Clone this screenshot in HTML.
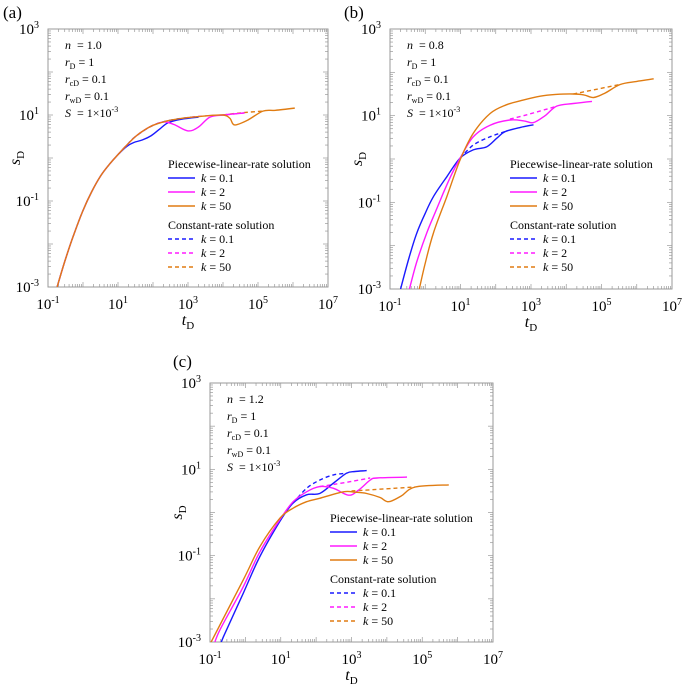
<!DOCTYPE html>
<html><head><meta charset="utf-8"><style>
body{margin:0;background:#fff}
svg{display:block;font-family:"Liberation Serif",serif}
</style></head><body>
<svg id="fig" width="685" height="685" viewBox="0 0 685 685">
<text x="3" y="18" font-size="17">(a)</text>
<text x="344" y="18" font-size="17">(b)</text>
<text x="173" y="367" font-size="17">(c)</text>
</svg>
<script>
// x-axis: log10 tD from -1 to 7; y-axis: log10 sD from -3 to 3
const xTickExps = [-1, 1, 3, 5, 7];
const yTickExps = [-3, -1, 1, 3];
const legendLabels = ["k = 0.1", "k = 2", "k = 50"];
const colors = ["#1a1aff", "#ff1aff", "#e07c12"];

// Panel (a) n=1.0 (log10 values)
const aBaseT = [-0.74,-0.5,-0.25,0,0.25,0.5,0.75,1,1.25,1.5,1.75,2,2.3,2.5,3,3.5,4];
const aBaseS = [-3,-2.35,-1.75,-1.22,-0.78,-0.42,-0.15,0.08,0.3,0.5,0.65,0.76,0.84,0.88,0.94,0.98,1.0];
const aBlueT = [1.25,1.45,1.7,1.95,2.2,2.43,2.8,3.3];
const aBlueS = [0.27,0.36,0.42,0.52,0.68,0.82,0.9,0.95];
const aBlueDashT = [1,1.25,1.5,2,2.5,3,3.3];
const aBlueDashS = [0.08,0.3,0.5,0.76,0.88,0.94,0.96];
const aPinkT = [2.6,3.0,3.3,3.62,4.0,4.62];
const aPinkS = [0.78,0.63,0.72,0.95,1.0,1.05];
const aPinkDashT = [2.3,3,3.5,4,4.62];
const aPinkDashS = [0.84,0.94,0.98,1.0,1.05];
const aOrangeT = [4.2,4.33,4.7,5.14,5.5,6.05];
const aOrangeS = [0.92,0.77,0.88,1.09,1.11,1.16];
const aOrangeDashT = [4,4.5,5.14];
const aOrangeDashS = [1.0,1.05,1.09];

// Panel (b) n=0.8
const bBlueT = [-0.7,-0.45,-0.24,0,0.23,0.61,0.99,1.36,1.74,2.03,2.26,2.7,3.07];
const bBlueS = [-3,-2.25,-1.71,-1.25,-0.87,-0.41,0.02,0.21,0.28,0.48,0.63,0.73,0.79];
const bBlueDashT = [0.99,1.36,1.83,2.26];
const bBlueDashS = [0.02,0.32,0.51,0.63];
const bPinkT = [-0.45,-0.25,0.04,0.3,0.51,0.75,0.99,1.36,1.84,2.4,2.8,3.07,3.4,3.73,4.2,4.73];
const bPinkS = [-3,-2.4,-1.71,-1.2,-0.79,-0.35,0.02,0.51,0.78,0.9,0.88,0.84,1.0,1.22,1.28,1.33];
const bPinkDashT = [2.4,2.88,3.4,3.73];
const bPinkDashS = [0.92,1.02,1.14,1.22];
const bOrangeT = [-0.17,0,0.23,0.61,0.99,1.36,1.84,2.3,2.78,3.26,3.7,4.2,4.5,4.78,5.1,5.53,6.0,6.48];
const bOrangeS = [-3,-2.4,-1.71,-0.87,-0.02,0.59,1.05,1.25,1.36,1.45,1.49,1.5,1.48,1.42,1.52,1.72,1.79,1.85];
const bOrangeDashT = [4.2,4.8,5.53];
const bOrangeDashS = [1.5,1.6,1.72];

// Panel (c) n=1.2
const cBlueT = [-0.76,-0.62,-0.06,0.41,0.98,1.35,1.73,2.1,2.49,2.86,3.1,3.43];
const cBlueS = [-3.2,-2.88,-1.87,-1.02,-0.2,0.22,0.41,0.44,0.68,0.91,0.95,0.97];
const cBlueDashT = [1.35,1.73,2.1,2.49,2.86];
const cBlueDashS = [0.22,0.56,0.75,0.87,0.91];
const cPinkT = [-0.9,-0.72,-0.06,0.41,0.98,1.35,1.73,2.1,2.49,2.92,3.2,3.53,3.72,4.57];
const cPinkS = [-3.1,-2.72,-1.72,-0.91,-0.16,0.25,0.48,0.6,0.56,0.4,0.52,0.75,0.8,0.82];
const cPinkDashT = [2.1,2.49,3.0,3.53];
const cPinkDashS = [0.6,0.65,0.72,0.8];
const cOrangeT = [-1,-0.06,0.41,0.98,1.35,1.73,2.1,2.77,3.1,3.43,3.8,4.05,4.4,4.8,5.75];
const cOrangeS = [-3.05,-1.56,-0.79,-0.13,0.1,0.25,0.33,0.48,0.47,0.44,0.35,0.25,0.38,0.59,0.64];
const cOrangeDashT = [3.0,3.43,4.2,4.8];
const cOrangeDashS = [0.5,0.52,0.56,0.59];

const NS = "http://www.w3.org/2000/svg";
const fig = document.getElementById("fig");
function mk(tag, attrs, parent){const e=document.createElementNS(NS,tag);for(const k in attrs)e.setAttribute(k,attrs[k]);(parent||fig).appendChild(e);return e;}

function smoothPath(pts){
  let d="M"+pts[0][0].toFixed(1)+","+pts[0][1].toFixed(1);
  for(let i=0;i<pts.length-1;i++){
    const p0=pts[Math.max(i-1,0)],p1=pts[i],p2=pts[i+1],p3=pts[Math.min(i+2,pts.length-1)];
    const c1=[p1[0]+(p2[0]-p0[0])/6,p1[1]+(p2[1]-p0[1])/6];
    const c2=[p2[0]-(p3[0]-p1[0])/6,p2[1]-(p3[1]-p1[1])/6];
    d+=" C"+c1[0].toFixed(1)+","+c1[1].toFixed(1)+" "+c2[0].toFixed(1)+","+c2[1].toFixed(1)+" "+p2[0].toFixed(1)+","+p2[1].toFixed(1);
  }
  return d;
}

function panel(id, x0, y0, x1, y1, nText, series){
  const g = mk("g",{});
  
  
  const xs = v => x0 + (v + 1) / 8 * (x1 - x0);
  const ys = v => y1 - (v + 3) / 6 * (y1 - y0);
  const cp = mk("clipPath",{id:id+"-clip"},g);
  mk("rect",{x:x0,y:y0,width:x1-x0,height:y1-y0},cp);
  for(let e=-1;e<7;e++){for(let m=1;m<10;m++){
    const X=xs(e+Math.log10(m)); const L=m===1?5:3;
    const t1=mk("line",{x1:X,x2:X,y1:y1,y2:y1-L,stroke:"#999","stroke-width":0.7},g);
    
    
    mk("line",{x1:X,x2:X,y1:y0,y2:y0+L,stroke:"#999","stroke-width":0.7},g);
  }}
  for(let e=-3;e<3;e++){for(let m=1;m<10;m++){
    const Y=ys(e+Math.log10(m)); const L=m===1?5:3;
    const t2=mk("line",{x1:x0,x2:x0+L,y1:Y,y2:Y,stroke:"#999","stroke-width":0.7},g);
    
    
    mk("line",{x1:x1,x2:x1-L,y1:Y,y2:Y,stroke:"#999","stroke-width":0.7},g);
  }}
  const box=mk("rect",{x:x0,y:y0,width:x1-x0,height:y1-y0,fill:"none",stroke:"#999","stroke-width":1},g);
  
  
  xTickExps.forEach(e=>{
    const t=mk("text",{x:xs(e),y:y1+22,"font-size":15,"text-anchor":"middle"},g);
    
    
    t.innerHTML="10<tspan dy='-6' font-size='10'>"+e+"</tspan>";
  });
  yTickExps.forEach(e=>{
    const t=mk("text",{x:x0-9,y:ys(e)+5,"font-size":15,"text-anchor":"end"},g);
    
    
    t.innerHTML="10<tspan dy='-6' font-size='10'>"+e+"</tspan>";
  });
  const xl=mk("text",{x:(x0+x1)/2,y:y1+38,"font-size":16,"text-anchor":"middle"},g);
  
  
  xl.innerHTML="<tspan font-style='italic'>t</tspan><tspan font-size='11' dy='4'>D</tspan>";
  const yl=mk("text",{x:0,y:0,"font-size":16,"text-anchor":"middle",transform:"translate("+(x0-28)+","+((y0+y1)/2)+") rotate(-90)"},g);
  
  
  yl.innerHTML="<tspan font-style='italic'>s</tspan><tspan font-size='11' dy='4'>D</tspan>";
  const params=["<tspan font-style='italic'>n</tspan> &#160;= "+nText,
    "<tspan font-style='italic'>r</tspan><tspan font-size='8' dy='3'>D</tspan><tspan dy='-3'> = 1</tspan>",
    "<tspan font-style='italic'>r</tspan><tspan font-size='8' dy='3'>cD</tspan><tspan dy='-3'> = 0.1</tspan>",
    "<tspan font-style='italic'>r</tspan><tspan font-size='8' dy='3'>wD</tspan><tspan dy='-3'> = 0.1</tspan>",
    "<tspan font-style='italic'>S</tspan> &#160;= 1×10<tspan font-size='8' dy='-5'>-3</tspan>"];
  params.forEach((p,i)=>{
    const t=mk("text",{x:x0+17,y:y0+20+i*17,"font-size":12},g);
    
    
    t.innerHTML=p;
  });
  const sg=mk("g",{"clip-path":"url(#"+id+"-clip)"},g);
  series.forEach(s=>{
    const pts=s.t.map((v,i)=>[xs(v),ys(s.s[i])]);
    const p=mk("path",{d:smoothPath(pts),fill:"none",stroke:s.c,"stroke-width":1.4,"stroke-dasharray":s.dash?"4,3":"none"},sg);
    
    
  });
  const lx=x0+120, ly=y0+139;
  const h1=mk("text",{x:lx,y:ly,"font-size":12},g);
  
  
  h1.textContent="Piecewise-linear-rate  solution";
  const h2=mk("text",{x:lx,y:ly+61,"font-size":12},g);
  
  
  h2.textContent="Constant-rate solution";
  [0,1].forEach(grp=>{
    legendLabels.forEach((lab,i)=>{
      const y=ly+14+i*14+grp*61;
      const l=mk("line",{x1:lx,x2:lx+27,y1:y-4,y2:y-4,stroke:colors[i],"stroke-width":1.4,"stroke-dasharray":grp?"4,3":"none"},g);
      
      
      const t=mk("text",{x:lx+33,y:y,"font-size":12},g);
      
      
      t.innerHTML="<tspan font-style='italic'>k</tspan>"+lab.slice(1);
    });
  });
}

const cat=(a,b)=>a.concat(b);
const idx=(arr,lim)=>arr.filter(v=>v<=lim);
panel("panel-a",48,29,328,287,"1.0",[
  {name:"a-blue-dashed",t:aBlueDashT,s:aBlueDashS,c:colors[0],dash:true},
  {name:"a-pink-dashed",t:aPinkDashT,s:aPinkDashS,c:colors[1],dash:true},
  {name:"a-orange-dashed",t:aOrangeDashT,s:aOrangeDashS,c:colors[2],dash:true},
  {name:"a-blue-solid",t:cat(idx(aBaseT,1.0),aBlueT),s:cat(aBaseS.slice(0,idx(aBaseT,1.0).length),aBlueS),c:colors[0]},
  {name:"a-pink-solid",t:cat(idx(aBaseT,2.3),aPinkT),s:cat(aBaseS.slice(0,idx(aBaseT,2.3).length),aPinkS),c:colors[1]},
  {name:"a-orange-solid",t:cat(aBaseT,aOrangeT),s:cat(aBaseS,aOrangeS),c:colors[2]}
]);
panel("panel-b",390,29,672,289,"0.8",[
  {name:"b-blue-dashed",t:bBlueDashT,s:bBlueDashS,c:colors[0],dash:true},
  {name:"b-pink-dashed",t:bPinkDashT,s:bPinkDashS,c:colors[1],dash:true},
  {name:"b-orange-dashed",t:bOrangeDashT,s:bOrangeDashS,c:colors[2],dash:true},
  {name:"b-blue-solid",t:bBlueT,s:bBlueS,c:colors[0]},
  {name:"b-pink-solid",t:bPinkT,s:bPinkS,c:colors[1]},
  {name:"b-orange-solid",t:bOrangeT,s:bOrangeS,c:colors[2]}
]);
panel("panel-c",210,383,493,642,"1.2",[
  {name:"c-blue-dashed",t:cBlueDashT,s:cBlueDashS,c:colors[0],dash:true},
  {name:"c-pink-dashed",t:cPinkDashT,s:cPinkDashS,c:colors[1],dash:true},
  {name:"c-orange-dashed",t:cOrangeDashT,s:cOrangeDashS,c:colors[2],dash:true},
  {name:"c-blue-solid",t:cBlueT,s:cBlueS,c:colors[0]},
  {name:"c-pink-solid",t:cPinkT,s:cPinkS,c:colors[1]},
  {name:"c-orange-solid",t:cOrangeT,s:cOrangeS,c:colors[2]}
]);
</script>
</body></html>
